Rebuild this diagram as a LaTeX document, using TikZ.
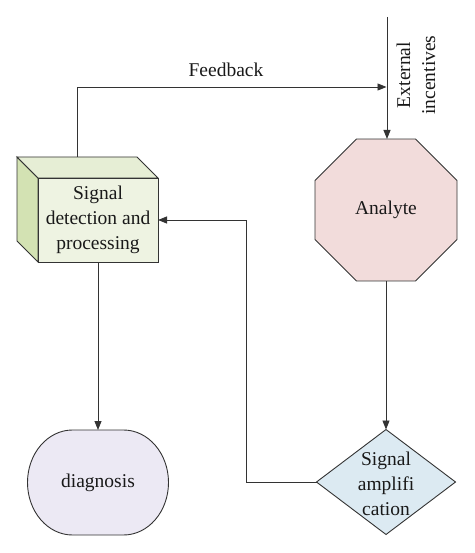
\documentclass[tikz,border=0pt]{standalone}
\usepackage{fontspec}
\setmainfont{Liberation Serif}
\usetikzlibrary{arrows.meta,shapes.geometric,calc}
\definecolor{linec}{HTML}{333333}
\definecolor{cubefront}{HTML}{EEF3E2}
\definecolor{cubeside}{HTML}{D3E2B3}
\definecolor{cubetop}{HTML}{E6EED5}
\definecolor{octfill}{HTML}{F2DCDB}
\definecolor{diafill}{HTML}{DCEAF2}
\definecolor{diagfill}{HTML}{ECE9F4}
\tikzset{
  x=1pt, y=-1pt,
  conn/.style={draw=linec, line width=0.9pt},
  arr/.style={conn, -{Triangle[length=9pt,width=7pt]}},
  shapeline/.style={draw=linec, line width=0.9pt},
  lbl/.style={font=\fontsize{19.5}{25}\selectfont, text=black!90, align=center, inner sep=0pt},
}
\begin{document}
\begin{tikzpicture}
\useasboundingbox (0,0) rectangle (474,553);
% cube
\draw[shapeline, fill=cubeside] (17,157) -- (38,178) -- (38,262) -- (17,241) -- cycle;
\draw[shapeline, fill=cubetop] (17,157) -- (137,157) -- (158,178) -- (38,178) -- cycle;
\node[shapeline, fill=cubefront, rectangle, minimum width=120pt, minimum height=84pt, inner sep=0pt, outer sep=0pt, anchor=north west] (cube) at (38,178) {};
\node[lbl] (cubetext) at (98,220) {Signal\\detection and\\processing};
% octagon
\node[shapeline, fill=octfill, regular polygon, regular polygon sides=8, minimum size=153.7pt, inner sep=0pt, outer sep=0pt] (octa) at (386,210) {};
\node[lbl] (octatext) at (octa.center) {Analyte};
% diamond
\node[shapeline, fill=diafill, diamond, minimum width=139pt, minimum height=105pt, inner sep=0pt, outer sep=0pt] (amp) at (386,482) {};
\node[lbl] (amptext) at (386,484) {Signal\\amplifi\\cation};
% diagnosis
\draw[shapeline, fill=diagfill] (72.5,430) -- (123.5,430)
  arc[start angle=-90, end angle=0, x radius=45, y radius=52.5]
  arc[start angle=0, end angle=90, x radius=45, y radius=52.5]
  -- (72.5,535)
  arc[start angle=90, end angle=180, x radius=45, y radius=52.5]
  arc[start angle=180, end angle=270, x radius=45, y radius=52.5];
\node[minimum width=141pt, minimum height=105pt, inner sep=0pt, outer sep=0pt] (diag) at (98,482.5) {};
\node[lbl] (diagtext) at (diag.center) {diagnosis};
% connectors
\coordinate (fbstart) at (77,157);
\coordinate (extstart) at (387,17);
\coordinate (fbend) at (386.5,87);
\draw[arr] (fbstart) |- (fbend);
\node[lbl, anchor=base] (fblabel) at (226,77) {Feedback};
\draw[arr] (extstart) -- (octa.north -| extstart);
\node[lbl, rotate=90] (extlabel) at (416,75) {External\\incentives};
\draw[arr] (octa.south) -- (amp.north);
\draw[arr] (amp.west) -- (246,482) |- (cube.east);
\draw[arr] (cube.south) -- (diag.north);
\end{tikzpicture}
\end{document}
